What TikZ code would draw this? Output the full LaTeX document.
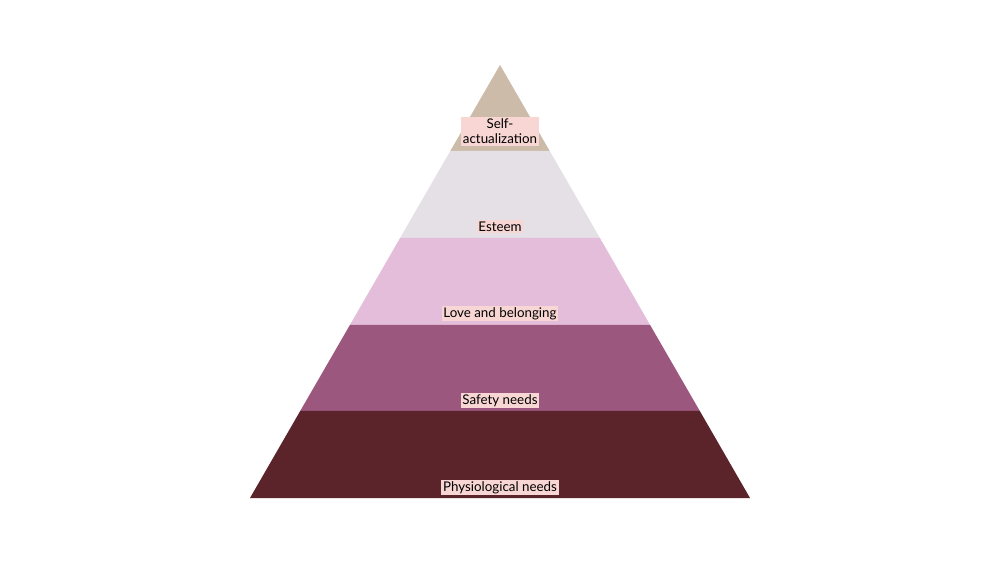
\documentclass[tikz,border=0pt]{standalone}
\usepackage{fontspec}
\setmainfont{Lato}
\begin{document}
\begin{tikzpicture}[x=0.02cm,y=-0.02cm,
  lbl/.style={fill=labelbg,inner sep=1pt,font=\fontsize{7.6}{8.6}\selectfont,text=black,align=center}]
\definecolor{c1}{HTML}{CBBBA8}
\definecolor{c2}{HTML}{E4E0E5}
\definecolor{c3}{HTML}{E3BDD9}
\definecolor{c4}{HTML}{9C577F}
\definecolor{c5}{HTML}{5B232A}
\definecolor{labelbg}{HTML}{F7D6D4}
\useasboundingbox (0,0) rectangle (1000,563);
\fill[white] (0,0) rectangle (1000,563);
\fill[c1] (500,65) -- (549.7,151) -- (450.3,151) -- cycle;
\fill[c2] (450.3,151) -- (549.7,151) -- (599.9,238) -- (400.1,238) -- cycle;
\fill[c3] (400.1,238) -- (599.9,238) -- (650.1,325) -- (349.9,325) -- cycle;
\fill[c4] (349.9,325) -- (650.1,325) -- (699.8,411) -- (300.2,411) -- cycle;
\fill[c5] (300.2,411) -- (699.8,411) -- (750,498) -- (250,498) -- cycle;
\node[lbl] (l1) at (500,131.5) {Self-\\actualization};
\node[lbl] (l2) at (500,226.5) {Esteem};
\node[lbl] (l3) at (500,313.5) {Love and belonging};
\node[lbl] (l4) at (500,400.5) {Safety needs};
\node[lbl] (l5) at (500,487.5) {Physiological needs};
\end{tikzpicture}
\end{document}
